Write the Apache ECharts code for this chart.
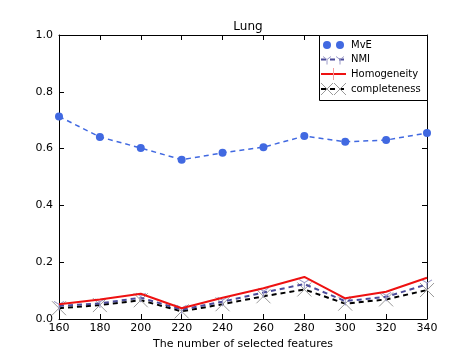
<!DOCTYPE html>
<html><head><meta charset="utf-8">
<script src="https://cdn.jsdelivr.net/npm/echarts@6/dist/echarts.min.js"></script>
<style>html,body{margin:0;padding:0;background:#fff}#c{width:474px;height:355px}</style>
</head><body><div id="c"></div>
<script>
const features = [160, 180, 200, 220, 240, 260, 280, 300, 320, 340];
const mve = [0.713, 0.641, 0.602, 0.561, 0.585, 0.605, 0.644, 0.624, 0.630, 0.655];
const nmi = [0.046, 0.055, 0.075, 0.033, 0.061, 0.093, 0.123, 0.063, 0.078, 0.122];
const homogeneity = [0.052, 0.069, 0.089, 0.038, 0.075, 0.108, 0.148, 0.073, 0.096, 0.145];
const completeness = [0.038, 0.049, 0.066, 0.027, 0.052, 0.080, 0.104, 0.054, 0.069, 0.102];
const xTicks = [160, 180, 200, 220, 240, 260, 280, 300, 320, 340];
const legendNames = ['MvE', 'NMI', 'Homogeneity', 'completeness'];

const pair = arr => features.map((f, i) => [f, arr[i]]);
const font = 'DejaVu Sans';
const triDown = 'path://M0,0 L5,3 L10,0 M5,3 L5,9';
const xMark = 'path://M0,0 L10,10 M10,0 L0,10';
const vBar = 'path://M0,0 L0,10';

const chart = echarts.init(document.getElementById('c'));
const axisCommon = {
  axisLine: {show: true, onZero: false, lineStyle: {color: '#000', width: 1}},
  axisTick: {show: true, inside: true, length: 5, lineStyle: {color: '#000'}},
  splitLine: {show: false}
};

// legend drawn as graphic (matplotlib-style box)
const lg = {x0: 319, y0: 35, w: 108, h: 65, rows: [45, 59.5, 74, 89], lx1: 321, lx2: 346, m1: 327, m2: 340, tx: 351};
const styles = [
  {line: {stroke: '#4169e1', lineWidth: 1.5, lineDash: [5, 4]}, marker: 'dot', color: '#4169e1'},
  {line: {stroke: '#4b4b9a', lineWidth: 2, lineDash: [5, 4]}, marker: 'tri', color: '#9a9ac8'},
  {line: {stroke: '#ee1111', lineWidth: 2}, marker: 'bar', color: '#f4a0a0'},
  {line: {stroke: '#000', lineWidth: 2, lineDash: [5, 4]}, marker: 'x', color: '#999'}
];
const g = [{type: 'rect', shape: {x: lg.x0 + 0.5, y: lg.y0 + 0.5, width: lg.w, height: lg.h},
  style: {fill: '#fff', stroke: '#000', lineWidth: 1}, z: 100}];
legendNames.forEach((name, i) => {
  const y = lg.rows[i], s = styles[i];
  if (s.marker !== 'dot') {
    g.push({type: 'line', shape: {x1: lg.lx1, y1: y, x2: lg.lx2, y2: y}, style: s.line, z: 101});
  }
  [lg.m1, lg.m2].forEach(mx => {
    if (s.marker === 'dot') g.push({type: 'circle', shape: {cx: mx, cy: y, r: 4}, style: {fill: s.color}, z: 102});
    if (s.marker === 'tri') g.push({type: 'polyline', shape: {points: [[mx - 4, y - 3], [mx, y], [mx + 4, y - 3]]}, style: {stroke: s.color, fill: null, lineWidth: 1}, z: 102},
      {type: 'line', shape: {x1: mx, y1: y, x2: mx, y2: y + 5}, style: {stroke: s.color, lineWidth: 1}, z: 102});
    if (s.marker === 'x') g.push({type: 'line', shape: {x1: mx - 6, y1: y - 6, x2: mx + 6, y2: y + 6}, style: {stroke: s.color, lineWidth: 1}, z: 102},
      {type: 'line', shape: {x1: mx - 6, y1: y + 6, x2: mx + 6, y2: y - 6}, style: {stroke: s.color, lineWidth: 1}, z: 102});
  });
  if (s.marker === 'bar') g.push({type: 'line', shape: {x1: (lg.lx1 + lg.lx2) / 2, y1: y - 6, x2: (lg.lx1 + lg.lx2) / 2, y2: y + 6}, style: {stroke: s.color, lineWidth: 1}, z: 102});
  g.push({type: 'text', x: lg.tx, y: y, style: {text: name, font: '10px "DejaVu Sans"', fill: '#000', textVerticalAlign: 'middle', verticalAlign: 'middle'}, z: 103});
});

chart.setOption({
  animation: false,
  backgroundColor: '#fff',
  title: {text: 'Lung', left: 243, top: 16, textAlign: 'center',
    textStyle: {fontFamily: font, fontSize: 12, fontWeight: 'normal', color: '#000'}},
  grid: {left: 59, right: 47, top: 35, bottom: 36},
  xAxis: [
    Object.assign({type: 'value', min: 160, max: 340, interval: 20, position: 'bottom',
      name: 'The number of selected features', nameLocation: 'middle', nameGap: 17,
      nameTextStyle: {fontFamily: font, fontSize: 11, color: '#000'},
      axisLabel: {fontFamily: font, fontSize: 11, color: '#000', margin: 4,
        formatter: v => xTicks.includes(v) ? String(v) : ''}}, axisCommon),
    Object.assign({type: 'value', min: 160, max: 340, interval: 20, position: 'top',
      axisLabel: {show: false}}, axisCommon)
  ],
  yAxis: [
    Object.assign({type: 'value', min: 0, max: 1, interval: 0.2, position: 'left',
      axisLabel: {fontFamily: font, fontSize: 11, color: '#000', margin: 6,
        formatter: v => v.toFixed(1)}}, axisCommon),
    Object.assign({type: 'value', min: 0, max: 1, interval: 0.2, position: 'right',
      axisLabel: {show: false}}, axisCommon)
  ],
  graphic: g,
  series: [
    {name: 'MvE', type: 'line', data: pair(mve), symbol: 'circle', symbolSize: 8,
      itemStyle: {color: '#4169e1'}, lineStyle: {color: '#4169e1', width: 1.5, type: [5, 4]}, z: 5},
    {name: 'NMI', type: 'line', data: pair(nmi), symbol: triDown, symbolSize: [10, 9],
      itemStyle: {color: 'rgba(0,0,0,0)', borderColor: '#9a9ac8', borderWidth: 1},
      lineStyle: {color: '#4b4b9a', width: 2, type: [5, 4]}, z: 4},
    {name: 'Homogeneity', type: 'line', data: pair(homogeneity), symbol: vBar, symbolSize: [1, 12],
      itemStyle: {color: 'rgba(0,0,0,0)', borderColor: '#f4a0a0', borderWidth: 1},
      lineStyle: {color: '#ee1111', width: 2, type: 'solid'}, z: 6},
    {name: 'completeness', type: 'line', data: pair(completeness), symbol: xMark, symbolSize: 14,
      itemStyle: {color: 'rgba(0,0,0,0)', borderColor: '#999', borderWidth: 1},
      lineStyle: {color: '#000', width: 2, type: [5, 4]}, z: 3}
  ]
});
</script></body></html>
